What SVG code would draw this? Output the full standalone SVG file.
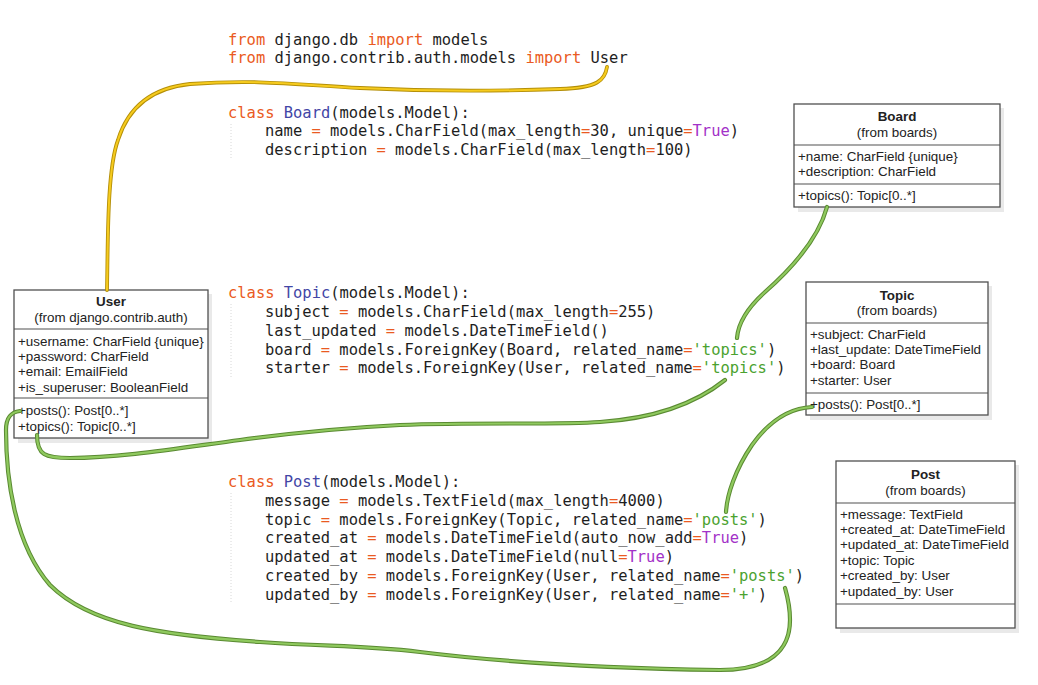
<svg xmlns="http://www.w3.org/2000/svg" width="1038" height="685" viewBox="0 0 1038 685">
<style>
.code{font-family:"DejaVu Sans Mono","Liberation Mono",monospace;font-size:15.45px;fill:#1e1e1e}
.kw{fill:#ea5a22}
.cls{fill:#4346a6}
.op{fill:#ea5a22}
.tr{fill:#a332c8}
.st{fill:#4ba22f}
.guide{stroke:#d8d8d8;stroke-width:1;stroke-dasharray:1 2}
.box{fill:#fff;stroke:#505050;stroke-width:1.3}
.shadow{fill:#e9e9e9}
.div{stroke:#505050;stroke-width:1.2}
.u{font-family:"Liberation Sans",Arial,sans-serif;font-size:13.4px;fill:#222}
.t{font-weight:bold;text-anchor:middle}
.s{text-anchor:middle}
.gO{fill:none;stroke:#5a8a32;stroke-width:4.2;stroke-linecap:round}
.gI{fill:none;stroke:#8fc95e;stroke-width:2.2;stroke-linecap:round}
.yO{fill:none;stroke:#b48f08;stroke-width:3.8;stroke-linecap:round}
.yI{fill:none;stroke:#f6cb1e;stroke-width:2;stroke-linecap:round}
</style>
<rect width="1038" height="685" fill="#fff"/>

<g id="code">
<text class="code" x="228" y="45"><tspan class="kw">from</tspan> django.db <tspan class="kw">import</tspan> models</text>
<text class="code" x="228" y="63"><tspan class="kw">from</tspan> django.contrib.auth.models <tspan class="kw">import</tspan> User</text>

<text class="code" x="228" y="118"><tspan class="kw">class</tspan> <tspan class="cls">Board</tspan>(models.Model):</text>
<line class="guide" x1="231" y1="124" x2="231" y2="160"/>
<text class="code" x="265" y="136">name <tspan class="op">=</tspan> models.CharField(max_length<tspan class="op">=</tspan>30, unique<tspan class="op">=</tspan><tspan class="tr">True</tspan>)</text>
<text class="code" x="265" y="155">description <tspan class="op">=</tspan> models.CharField(max_length<tspan class="op">=</tspan>100)</text>

<text class="code" x="228" y="298"><tspan class="kw">class</tspan> <tspan class="cls">Topic</tspan>(models.Model):</text>
<line class="guide" x1="231" y1="304" x2="231" y2="378"/>
<text class="code" x="265" y="317">subject <tspan class="op">=</tspan> models.CharField(max_length<tspan class="op">=</tspan>255)</text>
<text class="code" x="265" y="336">last_updated <tspan class="op">=</tspan> models.DateTimeField()</text>
<text class="code" x="265" y="355">board <tspan class="op">=</tspan> models.ForeignKey(Board, related_name<tspan class="op">=</tspan><tspan class="st">'topics'</tspan>)</text>
<text class="code" x="265" y="373">starter <tspan class="op">=</tspan> models.ForeignKey(User, related_name<tspan class="op">=</tspan><tspan class="st">'topics'</tspan>)</text>

<text class="code" x="228" y="487"><tspan class="kw">class</tspan> <tspan class="cls">Post</tspan>(models.Model):</text>
<line class="guide" x1="231" y1="493" x2="231" y2="604"/>
<text class="code" x="265" y="506">message <tspan class="op">=</tspan> models.TextField(max_length<tspan class="op">=</tspan>4000)</text>
<text class="code" x="265" y="525">topic <tspan class="op">=</tspan> models.ForeignKey(Topic, related_name<tspan class="op">=</tspan><tspan class="st">'posts'</tspan>)</text>
<text class="code" x="265" y="543">created_at <tspan class="op">=</tspan> models.DateTimeField(auto_now_add<tspan class="op">=</tspan><tspan class="tr">True</tspan>)</text>
<text class="code" x="265" y="562">updated_at <tspan class="op">=</tspan> models.DateTimeField(null<tspan class="op">=</tspan><tspan class="tr">True</tspan>)</text>
<text class="code" x="265" y="581">created_by <tspan class="op">=</tspan> models.ForeignKey(User, related_name<tspan class="op">=</tspan><tspan class="st">'posts'</tspan>)</text>
<text class="code" x="265" y="600">updated_by <tspan class="op">=</tspan> models.ForeignKey(User, related_name<tspan class="op">=</tspan><tspan class="st">'+'</tspan>)</text>
</g>

<g id="node-user">
<rect class="shadow" x="18" y="294" width="194" height="149"/>
<rect class="box" x="14" y="290" width="194" height="148"/>
<line class="div" x1="14" y1="329" x2="208" y2="329"/>
<line class="div" x1="14" y1="398" x2="208" y2="398"/>
<text class="u t" x="111" y="306">User</text>
<text class="u s" x="111" y="321.5">(from django.contrib.auth)</text>
<text class="u" x="18" y="346">+username: CharField {unique}</text>
<text class="u" x="18" y="361">+password: CharField</text>
<text class="u" x="18" y="376">+email: EmailField</text>
<text class="u" x="18" y="391.5">+is_superuser: BooleanField</text>
<text class="u" x="18" y="415">+posts(): Post[0..*]</text>
<text class="u" x="18" y="430.5">+topics(): Topic[0..*]</text>
</g>

<g id="node-board">
<rect class="shadow" x="798" y="108" width="206" height="104"/>
<rect class="box" x="794" y="104" width="206" height="103"/>
<line class="div" x1="794" y1="145" x2="1000" y2="145"/>
<line class="div" x1="794" y1="184" x2="1000" y2="184"/>
<text class="u t" x="897" y="121">Board</text>
<text class="u s" x="897" y="137">(from boards)</text>
<text class="u" x="798" y="161">+name: CharField {unique}</text>
<text class="u" x="798" y="176">+description: CharField</text>
<text class="u" x="798" y="200">+topics(): Topic[0..*]</text>
</g>

<g id="node-topic">
<rect class="shadow" x="810" y="286" width="182" height="134"/>
<rect class="box" x="806" y="282" width="182" height="133"/>
<line class="div" x1="806" y1="323" x2="988" y2="323"/>
<line class="div" x1="806" y1="393" x2="988" y2="393"/>
<text class="u t" x="897" y="299.5">Topic</text>
<text class="u s" x="897" y="315">(from boards)</text>
<text class="u" x="810" y="338.5">+subject: CharField</text>
<text class="u" x="810" y="353.5">+last_update: DateTimeField</text>
<text class="u" x="810" y="369">+board: Board</text>
<text class="u" x="810" y="384.5">+starter: User</text>
<text class="u" x="810" y="408.5">+posts(): Post[0..*]</text>
</g>

<g id="node-post">
<rect class="shadow" x="840" y="465" width="179" height="168"/>
<rect class="box" x="836" y="461" width="179" height="167"/>
<line class="div" x1="836" y1="503" x2="1015" y2="503"/>
<line class="div" x1="836" y1="604" x2="1015" y2="604"/>
<text class="u t" x="925.5" y="478.5">Post</text>
<text class="u s" x="925.5" y="495">(from boards)</text>
<text class="u" x="840" y="518.5">+message: TextField</text>
<text class="u" x="840" y="533.5">+created_at: DateTimeField</text>
<text class="u" x="840" y="549">+updated_at: DateTimeField</text>
<text class="u" x="840" y="564.5">+topic: Topic</text>
<text class="u" x="840" y="580">+created_by: User</text>
<text class="u" x="840" y="595.5">+updated_by: User</text>
</g>

<g id="connectors">
<path class="yO" d="M107,290 C108,240 107,170 118,140 C128,108 150,88 190,84 C260,79 300,85 360,88 C420,91 480,92 560,89 C598,88 605,80 607,67"/>
<path class="yI" d="M107,290 C108,240 107,170 118,140 C128,108 150,88 190,84 C260,79 300,85 360,88 C420,91 480,92 560,89 C598,88 605,80 607,67"/>

<path class="gO" d="M827,207 C818,240 790,270 765,292 C745,310 738,325 737,338"/>
<path class="gI" d="M827,207 C818,240 790,270 765,292 C745,310 738,325 737,338"/>

<path class="gO" d="M37,435 C37,455 45,458 70,458 C120,458 180,448 240,440 C300,432 340,428 400,425 C480,422 560,425 600,422 C660,418 700,400 725,380"/>
<path class="gI" d="M37,435 C37,455 45,458 70,458 C120,458 180,448 240,440 C300,432 340,428 400,425 C480,422 560,425 600,422 C660,418 700,400 725,380"/>

<path class="gO" d="M20,411 C12,412 6,416 6,430 C6,480 15,545 50,585 C90,625 160,635 260,642 C330,647 360,645 420,652 C500,662 600,668 720,670 C770,670 790,650 790,620 C790,605 787,595 785,588"/>
<path class="gI" d="M20,411 C12,412 6,416 6,430 C6,480 15,545 50,585 C90,625 160,635 260,642 C330,647 360,645 420,652 C500,662 600,668 720,670 C770,670 790,650 790,620 C790,605 787,595 785,588"/>

<path class="gO" d="M812,407 C790,408 770,420 752,445 C735,470 727,495 726,512"/>
<path class="gI" d="M812,407 C790,408 770,420 752,445 C735,470 727,495 726,512"/>
</g>
</svg>
